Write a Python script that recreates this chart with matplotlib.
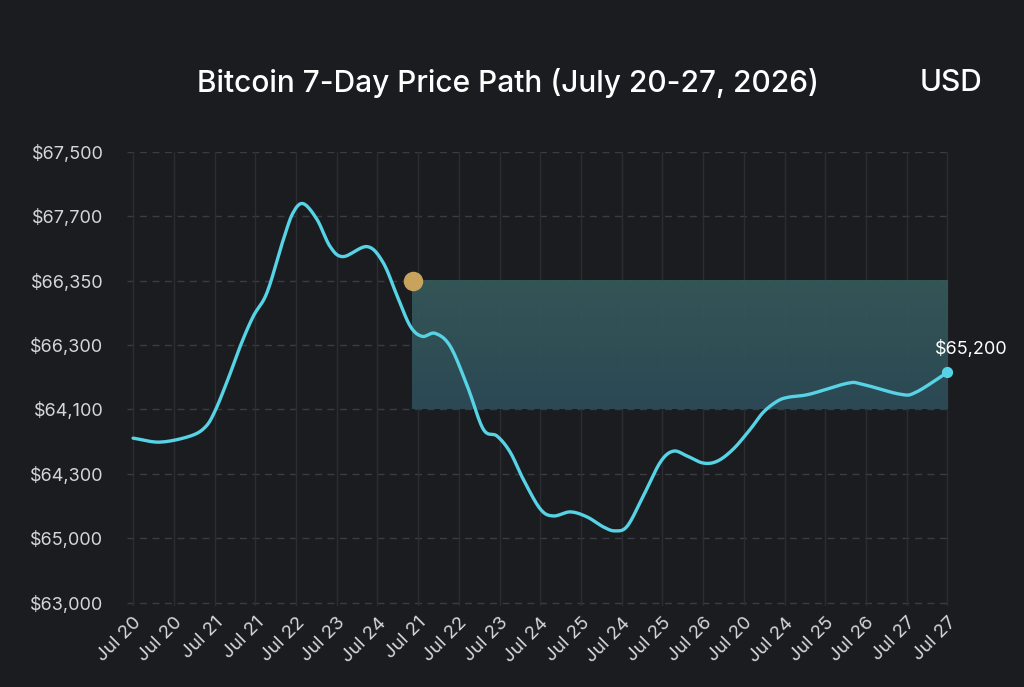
import numpy as np
import matplotlib
matplotlib.use("Agg")
import matplotlib.pyplot as plt
from matplotlib.colors import LinearSegmentedColormap

# chart data
x_labels = ["Jul 20", "Jul 20", "Jul 21", "Jul 21", "Jul 22", "Jul 23", "Jul 24",
            "Jul 21", "Jul 22", "Jul 23", "Jul 24", "Jul 25", "Jul 24", "Jul 25",
            "Jul 26", "Jul 20", "Jul 24", "Jul 25", "Jul 26", "Jul 27", "Jul 27"]
y_ticks = [63000, 63600, 64200, 64800, 65400, 66000, 66600, 67200]
y_labels = ["$63,000", "$65,000", "$64,300", "$64,100",
            "$66,300", "$66,350", "$67,700", "$67,500"]

# price path (x in tick positions, y in dollars)
path_x = [0.0, 0.66, 1.40, 1.77, 2.01, 2.33, 2.63, 2.95, 3.29, 3.69, 3.93, 4.18,
          4.52, 4.84, 5.16, 5.75, 6.14, 6.49, 6.81, 7.10, 7.42, 7.79, 8.21, 8.60,
          8.94, 9.26, 9.58, 10.0, 10.32, 10.74, 11.15, 11.55, 11.84, 12.14, 12.53,
          12.95, 13.27, 13.61, 14.0, 14.35, 14.74, 15.16, 15.48, 15.82, 16.09,
          16.61, 17.54, 17.91, 18.84, 19.23, 20.0]
path_y = [64533, 64496, 64552, 64635, 64784, 65081, 65388, 65667, 65890, 66382,
          66633, 66717, 66568, 66317, 66224, 66317, 66169, 65853, 65574, 65481,
          65509, 65388, 65016, 64617, 64552, 64403, 64152, 63873, 63808, 63846,
          63799, 63706, 63669, 63715, 63994, 64310, 64412, 64366, 64301, 64319,
          64431, 64617, 64775, 64877, 64914, 64942, 65044, 65035, 64942, 64961,
          65146]

band_x = [6.86, 20.0]
band_y = [64800, 66000]
marker_x, marker_y = 6.88, 66000
end_label = "$65,200"


def smooth(xs, ys, n=12):
    # catmull-rom curve through the read points, only for drawing
    xs = np.asarray(xs, float)
    ys = np.asarray(ys, float) / 600.0
    px = np.concatenate([[2 * xs[0] - xs[1]], xs, [2 * xs[-1] - xs[-2]]])
    py = np.concatenate([[2 * ys[0] - ys[1]], ys, [2 * ys[-1] - ys[-2]]])
    outx, outy = [], []
    t = np.linspace(0, 1, n, endpoint=False)
    for i in range(1, len(px) - 2):
        for arr, out in ((px, outx), (py, outy)):
            p0, p1, p2, p3 = arr[i - 1], arr[i], arr[i + 1], arr[i + 2]
            out.extend(0.5 * (2 * p1 + (-p0 + p2) * t
                              + (2 * p0 - 5 * p1 + 4 * p2 - p3) * t ** 2
                              + (-p0 + 3 * p1 - 3 * p2 + p3) * t ** 3))
    outx.append(xs[-1])
    outy.append(ys[-1])
    return np.array(outx), np.array(outy) * 600.0


bg = "#1b1c20"
plt.rcParams["font.family"] = ["Inter", "DejaVu Sans"]

fig = plt.figure(figsize=(10.24, 6.87), dpi=100, facecolor=bg)
ax = fig.add_axes([0.124, 0.118, 0.806, 0.661])
ax.set_facecolor(bg)

ax.set_xlim(-0.15, 20.12)
ax.set_ylim(63000 - 30, 67200)

# grid
for t in y_ticks:
    ax.axhline(t, color="#3b3c42", lw=1, ls=(0, (5, 4)), zorder=1)
for i in range(len(x_labels)):
    ax.axvline(i, color="#2c2d33", lw=1, zorder=1)

# shaded band with a vertical gradient
cmap = LinearSegmentedColormap.from_list("band", ["#2c4b57", "#36595a"])
grad = np.linspace(0, 1, 256).reshape(-1, 1)
ax.imshow(grad, cmap=cmap, origin="lower", aspect="auto", alpha=0.95,
          extent=[band_x[0], band_x[1], band_y[0], band_y[1]], zorder=2)

sx, sy = smooth(path_x, path_y)
ax.plot(sx, sy, color="#56d3e5", lw=2.4, solid_capstyle="round", zorder=4)
ax.scatter([path_x[-1]], [path_y[-1]], s=50, color="#56d3e5", zorder=5)
ax.scatter([marker_x], [marker_y], s=170, color="#c9a35b", zorder=5)
ax.annotate(end_label, (path_x[-1], path_y[-1]), xytext=(17, 17),
            textcoords="offset points", ha="center", va="center",
            color="white", fontsize=13)

ax.set_xticks(range(len(x_labels)))
ax.set_xticklabels(x_labels, rotation=45, ha="right", va="top",
                   rotation_mode="anchor", color="#d6d6d6", fontsize=13.5)
ax.set_yticks(y_ticks)
ax.set_yticklabels(y_labels, color="#d6d6d6", fontsize=13)
ax.tick_params(axis="both", length=0)
ax.tick_params(axis="x", pad=6)
ax.tick_params(axis="y", pad=17)
for s in ax.spines.values():
    s.set_visible(False)

fig.text(0.496, 0.879, "Bitcoin 7-Day Price Path (July 20-27, 2026)", ha="center",
         va="center", color="white", fontsize=21.5, fontweight="medium")
fig.text(0.929, 0.879, "USD", ha="center", va="center", color="white",
         fontsize=21.5, fontweight="medium")

fig.savefig("out.png", dpi=100, facecolor=bg)
